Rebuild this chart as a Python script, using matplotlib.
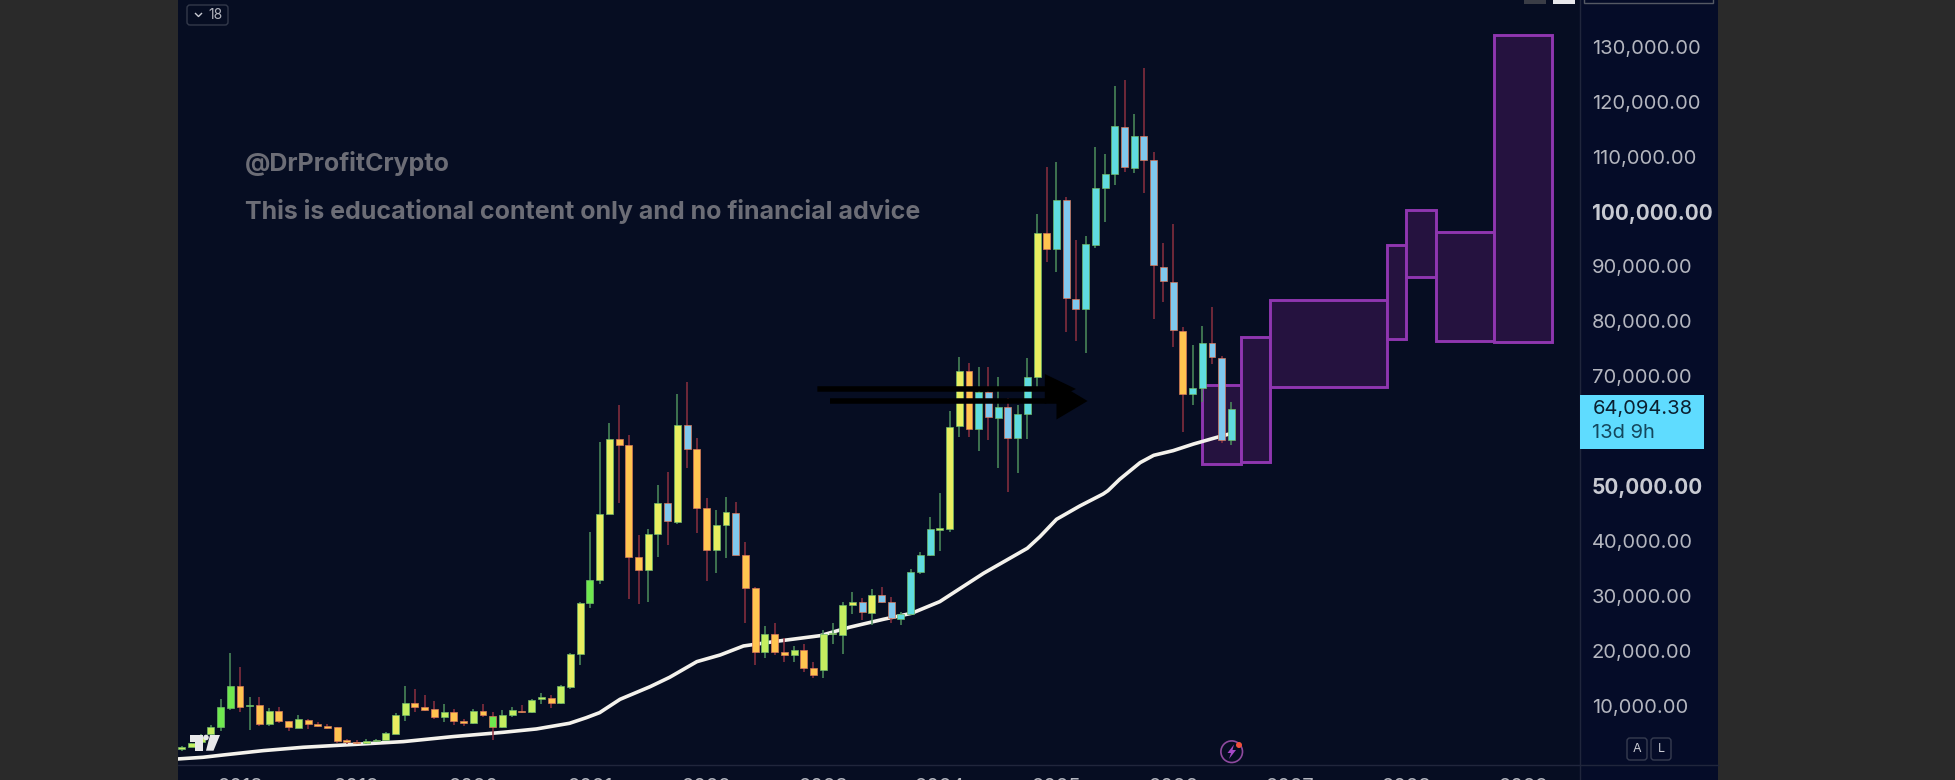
import numpy as np
import matplotlib
matplotlib.use("Agg")
import matplotlib.pyplot as plt
from matplotlib.patches import Rectangle, FancyBboxPatch, Circle, Polygon

# ---------- data ----------
first_month = -6  # months from Jan 2018
opens = [2184,2487,3459,4855,6190,9650,13595,9893,10075,6615,
         8982,7161,6008,7465,6736,6372,6069,3701,3458,3216,
         3519,3823,4915,8315,10439,9832,9407,8011,8861,7283,
         6858,9043,8132,6129,8254,9104,8800,11167,11350,10439,
         13353,19433,28780,32908,44987,58523,57552,37036,34790,41224,
         46869,43470,61073,56702,45958,38310,42924,45169,37460,31512,
         19736,23014,19797,19190,20161,16823,16500,23014,22892,28295,
         28902,26959,30176,28962,25745,26656,34304,37400,42013,42134,
         60891,71028,60405,67082,62347,64350,58705,63137,69949,96171,
         93197,102120,84153,82271,93926,104366,106915,115474,107887,113774,
         109343,89980,87248,78326,66732,67946,76019,73287,58416]
highs = [2669,3280,4900,6450,11289,19544,16995,11532,11532,9589,
         9771,7250,8254,7550,7040,6676,6190,4005,3762,3883,
         3883,5280,8739,13656,12988,12017,10803,10318,9346,7525,
         9346,10318,8922,9286,9832,10136,11228,12260,11957,13778,
         19605,28962,41710,58098,61558,64715,59312,41102,42134,50268,
         52635,66779,68903,58827,47779,45655,48083,47172,39828,31600,
         24531,25017,22285,20889,21254,18037,23803,25017,28841,30723,
         29570,31269,31572,29873,27141,34850,38067,44441,48690,63744,
         73456,72484,71756,71756,69814,65990,64776,73274,99510,108069,
         109100,102606,94836,95625,111711,110497,122940,123972,117720,126097,
         110922,94350,97750,79054,75715,79236,82696,73712,65397]
lows = [1698,2420,3000,4750,5340,9225,8922,5644,6372,6372,
        6918,5462,5886,5704,6069,5826,3276,3034,2973,3094,
        3398,3701,4855,7283,8861,9104,7525,7100,6494,6311,
        6676,8011,3701,5947,8011,8618,8618,10318,9528,10257,
        13049,17430,27749,32180,44987,46869,29387,28538,28962,37157,
        39281,43106,53242,41527,32726,34122,36975,37460,25138,17430,
        18643,19250,18037,18037,16215,15000,15000,21254,19372,26717,
        25624,24713,28780,25138,24713,26534,33940,37278,38250,41710,
        59009,58888,56338,58402,53242,48994,52332,58584,68128,90891,
        89069,78143,76505,74320,93318,98053,104851,107280,107097,103334,
        80389,83606,75412,59934,64789,65397,72255,57930,57505]
closes = [2548,3216,4369,6190,9771,13656,9832,10136,6615,8982,
          7161,6069,7525,6736,6311,6008,3580,3398,3216,3519,
          3823,5037,8254,10500,9832,9225,8011,8861,7283,6858,
          9104,8254,6190,8315,9164,8800,11107,11532,10500,13595,
          19483,28780,32908,44987,58584,57552,37096,34790,41224,46869,
          43652,61073,56824,46019,38310,42863,45291,37460,31512,19797,
          23075,19858,19250,20161,16823,15608,23075,23318,28295,28962,
          27020,30237,28962,25927,26656,34426,37460,42134,42316,60830,
          71028,60466,67204,62530,64472,58766,63137,69935,96171,93258,
          102120,84214,82332,94047,104305,106915,115595,108069,113774,109465,
          90284,87430,78507,66793,67946,76019,73591,58416,64094]
# g green, l lime, y yellow, o orange, b blue, t teal
candle_kinds = ("llllggogol"   # -6..3
                "oolooooool"   # 4..13
                "llyloooloo"   # 14..23
                "logllollol"   # 24..33
                "yygyyoooyy"   # 34..43
                "bybooyyboo"   # 44..53
                "looloolyly"   # 54..63
                "bybbttttly"   # 64..73
                "yotbtbttyo"   # 74..83
                "tbbttttbtb"   # 84..93
                "bbbottbbt")   # 94..102
ma_months = [-6.4,-3.8,-1.7,2.4,6.5,12,16.8,21.9,27.1,30.5,33.9,35.6,37.0,39.1,42.2,44.2,47,49.4,51.8,54.9,59.7,62.7,66.2,69.1,72,76.5,81,82.3,84,86.4,88.8,89.3,90.5,92.6,94,96,98.1,100.5,102]
ma_values = [300,606,1030,1820,2427,2973,3458,4369,5158,5765,6797,7800,8737,11165,13472,15171,18024,19238,20877,21666,22759,24288,25745,26838,28962,34123,38674,40795,43951,46379,48565,49172,51235,54270,55606,56456,57670,58884,59600]
box_left = [99,103,106,118,120,123,129]
box_right = [103,106,118,120,123,129,135]
box_top = [68415,77210,83950,93915,100290,96280,132170]
box_bottom = [54030,54390,68050,76800,88090,76430,76300]
year_labels = [2018,2019,2020,2021,2022,2023,2024,2025,2026,2027,2028,2029]
price_ticks = [10000,20000,30000,40000,50000,70000,80000,90000,100000,110000,120000,130000]
bold_ticks = [50000,100000]
arrow_start = [59.4,60.7]
arrow_end = [86.0,87.2]
arrow_level = [67690,65500]
arrow_head = [5464,6740]

palette = dict(g="#6fe84f", l="#c4ee60", y="#e8ee60", o="#ffc44f", b="#80c8ee", t="#5fdce0")
BG = "#060d22"; AXBG = "#050c28"; OUT = "#2a2a2a"; LINE = "#20263c"; TXT = "#b4b6bf"
W, H = 1956, 780
FONT = ["Inter", "DejaVu Sans"]
plt.rcParams["font.family"] = FONT

fig = plt.figure(figsize=(W/100, H/100), dpi=100, facecolor=OUT)

def px_axes(z):
    a = fig.add_axes([0, 0, 1, 1], zorder=z)
    a.set_xlim(0, W); a.set_ylim(H, 0); a.axis("off"); a.patch.set_alpha(0)
    return a

bg = px_axes(0)
bg.add_patch(Rectangle((178, 0), 1402, 780, fc=BG, ec="none"))
bg.add_patch(Rectangle((1580, 0), 138, 780, fc=AXBG, ec="none"))
bg.plot([178, 1718], [765, 765], color=LINE, lw=1)
bg.plot([1580, 1580], [0, 780], color=LINE, lw=1)

# main chart: month index on x, price on y
ax = fig.add_axes([178/W, (H-765)/H, (1580-178)/W, 765/H], zorder=1)
ax.patch.set_alpha(0)
ax.set_xlim((178-240)/9.72, (1580-240)/9.72)
ax.set_ylim(-801, 138542)
for s in ax.spines.values():
    s.set_visible(False)

for l, r, t, b in zip(box_left, box_right, box_top, box_bottom):
    ax.add_patch(Rectangle((l, b), r-l, t-b, fc="#25123f", ec="#8f36b0", lw=2.1, zorder=2))

ax.plot(ma_months, ma_values, color="#f4f2ec", lw=2.6, solid_joinstyle="round", solid_capstyle="round", zorder=3)

months = np.arange(first_month, first_month + len(closes))
assert len(opens) == len(highs) == len(lows) == len(closes) == len(candle_kinds)
for m, o, h, lo, c, k in zip(months, opens, highs, lows, closes, candle_kinds):
    up = c >= o
    ax.vlines(m, lo, h, color="#4d8f5c" if up else "#8c3040", lw=1.1, zorder=4)
    ax.bar(m, abs(c-o), bottom=min(o, c), width=0.72, color=palette[k],
           edgecolor="#6fb868" if up else "#d8785a", linewidth=0.5, zorder=5)

for s, e, y, hd in zip(arrow_start, arrow_end, arrow_level, arrow_head):
    ax.arrow(s, y, e-s, 0, width=1000, head_width=hd, head_length=3.2,
             length_includes_head=True, color="black", lw=0, zorder=6)

ax.set_xticks([(y-2018)*12 for y in year_labels])
ax.set_xticklabels([str(y) for y in year_labels])
ax.tick_params(axis="x", length=0, pad=9.0, labelsize=14.5, labelcolor=TXT)
ax.yaxis.tick_right()
ax.set_yticks(price_ticks)
ax.set_yticklabels([f"{v:,.2f}" for v in price_ticks])
ax.tick_params(axis="y", length=0, pad=8.6, labelsize=14.5, labelcolor=TXT)
for lab, v in zip(ax.get_yticklabels(), price_ticks):
    if v in bold_ticks:
        lab.set_fontweight("bold")
        lab.set_color("#c8cad2")
        lab.set_fontsize(14.9)

ui = px_axes(3)
ui.text(245, 163, "@DrProfitCrypto", color="#6c6d76", fontsize=18.0, fontweight="bold", va="center", ha="left")
ui.text(245, 211, "This is educational content only and no financial advice", color="#6c6d76",
        fontsize=18.0, fontweight="bold", va="center", ha="left")
ui.add_patch(FancyBboxPatch((187, 5), 41, 20, boxstyle="round,pad=0,rounding_size=3", fc="none", ec="#33394a", lw=1))
ui.plot([195.5, 198.5, 201.5], [13.5, 16.5, 13.5], color="#c8cad2", lw=1)
ui.text(215, 15, "18", color=TXT, fontsize=10, ha="center", va="center")
ui.add_patch(Rectangle((1580, 395), 124, 54, fc="#5fdcff", ec="none"))
ui.text(1592.5, 408.7, "64,094.38", color="#0b2030", fontsize=14.5, va="center", ha="left")
ui.text(1592.5, 432.7, "13d 9h", color="#14485e", fontsize=14.5, va="center", ha="left")
for x, t in ((1627, "A"), (1651, "L")):
    ui.add_patch(FancyBboxPatch((x, 738), 20, 22, boxstyle="round,pad=0,rounding_size=3", fc="none", ec="#363c50", lw=1))
    ui.text(x+10, 749.5, t, color="#c8cad2", fontsize=9, ha="center", va="center")
ui.add_patch(Rectangle((1524, 0), 22, 4, fc="#3a3d46", ec="none"))
ui.add_patch(Rectangle((1552.6, 0), 22, 4, fc="#e8e8ec", ec="none"))
ui.add_patch(Rectangle((1584, -4), 129, 7, fc="none", ec="#555964", lw=1))
ui.add_patch(Circle((1231.7, 751.7), 10.8, fc="none", ec="#8e4a9e", lw=1.2))
ui.add_patch(Polygon([(1234, 744.5), (1227.5, 753), (1231, 753), (1229, 759), (1236, 750), (1232.5, 750)], fc="#a548c8", ec="none"))
ui.add_patch(Circle((1239, 745), 3, fc="#f0503c", ec="none"))
ui.add_patch(Polygon([(189.5, 735), (202.7, 735), (202.7, 750.7), (195, 750.7), (195, 742), (189.5, 742)], fc="#e8e8ea", ec="none"))
ui.add_patch(Circle((206, 737.5), 2.8, fc="#e8e8ea", ec="none"))
ui.add_patch(Polygon([(210, 735), (220, 735), (213.5, 750.7), (206, 750.7)], fc="#e8e8ea", ec="none"))

fig.savefig("out.png", dpi=100, facecolor=OUT)
